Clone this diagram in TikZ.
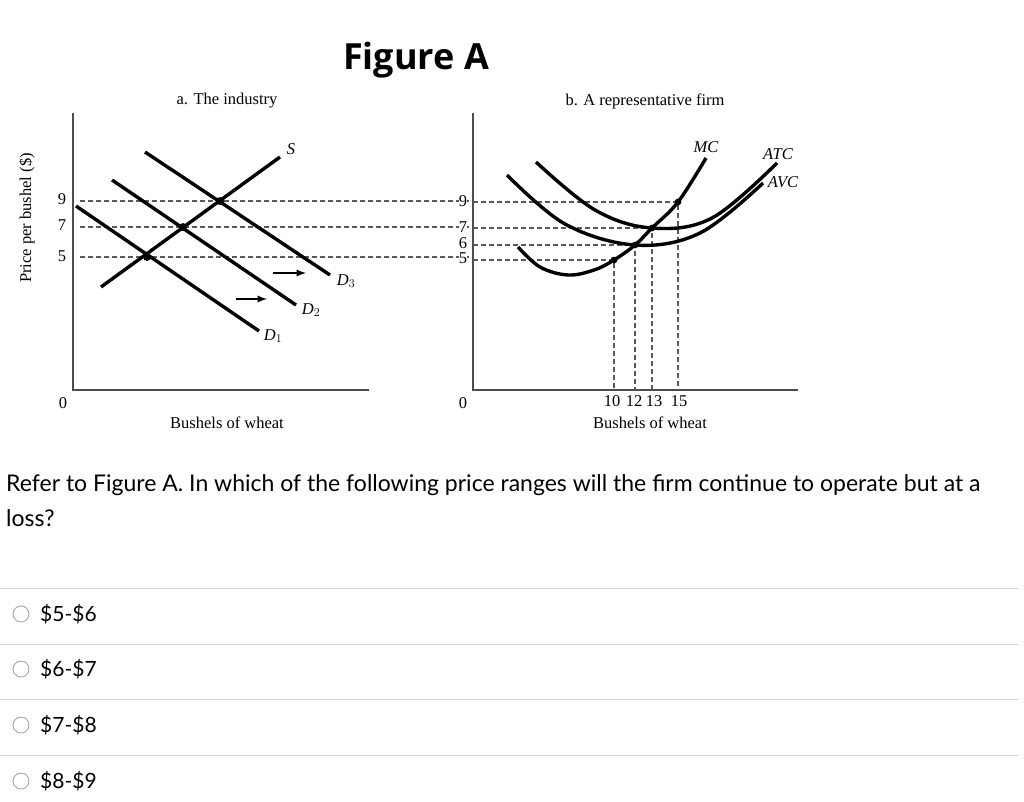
\documentclass[tikz,border=0pt]{standalone}
\usepackage{fontspec}
\setmainfont{Liberation Serif}
\newfontfamily\lato{Lato}
\newfontfamily\osans{Open Sans}
\begin{document}
\begin{tikzpicture}[x=1pt,y=-1pt,
  curve/.style={line width=3.4pt},
  dsh/.style={gray!70!black,dashed,dash pattern=on 5pt off 3pt,line width=1.1pt},
  ax/.style={gray!60!black,line width=1.5pt},
  lbl/.style={font=\fontsize{16.5}{17}\selectfont},
  il/.style={font=\itshape\fontsize{16.5}{17}\selectfont},
  dot/.style={circle,fill,inner sep=2.8pt},
  qtext/.style={font=\lato\fontsize{23}{26}\selectfont,anchor=base west,inner sep=0},
  sep/.style={gray!35,line width=0.8pt}]
\useasboundingbox (0,0) rectangle (1024,801);
\node[font=\osans\bfseries\fontsize{36}{40}\selectfont] (title) at (416,60) {Figure A};
% left panel
\node[lbl] (ta) at (227,101) {a. The industry};
\node[lbl] (xa) at (227,423) {Bushels of wheat};
\node[lbl,rotate=90] (ya) at (27,218) {Price per bushel (\$)};
\coordinate (o1) at (73,390);
\draw[ax] (73,113) -- (o1) -- (369,390);
\node[lbl] (z1) at (63,403) {0};
\node[lbl] at (62,199) {9};
\node[lbl] at (62,225) {7};
\node[lbl] at (62,256) {5};
\draw[dsh] (80,201) -- (473,201);
\draw[dsh] (80,227) -- (473,227);
\draw[dsh] (80,257) -- (473,257);
\coordinate (s0) at (101,287); \coordinate (s1) at (280,157);
\draw[curve] (s0) -- (s1);
\coordinate (d1a) at (76,206); \coordinate (d1b) at (259,331);
\coordinate (d2a) at (112,180); \coordinate (d2b) at (296,305);
\coordinate (d3a) at (145,152); \coordinate (d3b) at (330,275);
\draw[curve] (d1a) -- (d1b);
\draw[curve] (d2a) -- (d2b);
\draw[curve] (d3a) -- (d3b);
\node[dot] at (220,201) {}; \node[dot] at (183,227) {}; \node[dot] at (147,257) {};
\coordinate (a1) at (236,299); \coordinate (a1e) at (267,299);
\coordinate (a2) at (273,273); \coordinate (a2e) at (306,273);
\draw[line width=2.2pt,-latex] (a1) -- (a1e);
\draw[line width=2.2pt,-latex] (a2) -- (a2e);
\node[il] at (291,149) {S};
\node[il] at (273,336) {D$_1$};
\node[il] at (311,310) {D$_2$};
\node[il] at (346,281) {D$_3$};
% right panel
\node[lbl] (tb) at (645,101) {b. A representative firm};
\node[lbl] (xb) at (650,423) {Bushels of wheat};
\draw[ax] (473,113) -- (473,390) -- (798,390);
\node[lbl] at (463,403) {0};
\draw[dsh] (473,202) -- (678,202) -- (678,390);
\draw[dsh] (473,228) -- (652,228) -- (652,390);
\draw[dsh] (473,245) -- (635,245) -- (635,390);
\draw[dsh] (473,260) -- (614,260) -- (614,390);
\node[lbl,fill=white,inner sep=0.3pt] at (463,201) {9};
\node[lbl,fill=white,inner sep=0.3pt] at (463,227) {7};
\node[lbl,fill=white,inner sep=0.3pt] at (463,243) {6};
\node[lbl,fill=white,inner sep=0.3pt] at (463,258) {5};
\draw[curve] plot[smooth,tension=0.6] coordinates {(518,247) (540,267) (568,275) (594,270) (614,260) (635,245) (652,228) (678,202) (706,158)};
\draw[curve] plot[smooth,tension=0.6] coordinates {(507,175) (565,224) (635,245) (700,233) (763,183)};
\draw[curve] plot[smooth,tension=0.6] coordinates {(536,162) (595,210) (652,228) (712,218) (777,163)};
\node[dot,inner sep=2.4pt] at (614,260) {}; \node[dot,inner sep=2.4pt] at (635,245) {};
\node[dot,inner sep=2.4pt] at (652,228) {}; \node[dot,inner sep=2.4pt] at (678,202) {};
\node[il] at (706,147) {MC};
\node[il] at (778,154) {ATC};
\node[il] at (783,182) {AVC};
\node[lbl] at (612,401) {10};
\node[lbl] at (634,401) {12};
\node[lbl] at (654,401) {13};
\node[lbl] at (679,401) {15};
% question
\node[qtext] (q1) at (6,491) {Refer to Figure A. In which of the following price ranges will the firm continue to operate but at a};
\node[qtext] (q2) at (6,526) {loss?};
\foreach \y in {588,644,699,755} \draw[sep] (0,\y) -- (1018,\y);
\foreach \y/\t in {614/\$5-\$6,669/\$6-\$7,725/\$7-\$8,781/\$8-\$9}{
  \draw[gray!70,line width=0.9pt] (21,\y) circle (8);
  \node[qtext,font=\lato\fontsize{21}{24}\selectfont] at (40,\y+7.5) {\t};
}
\end{tikzpicture}
\end{document}
